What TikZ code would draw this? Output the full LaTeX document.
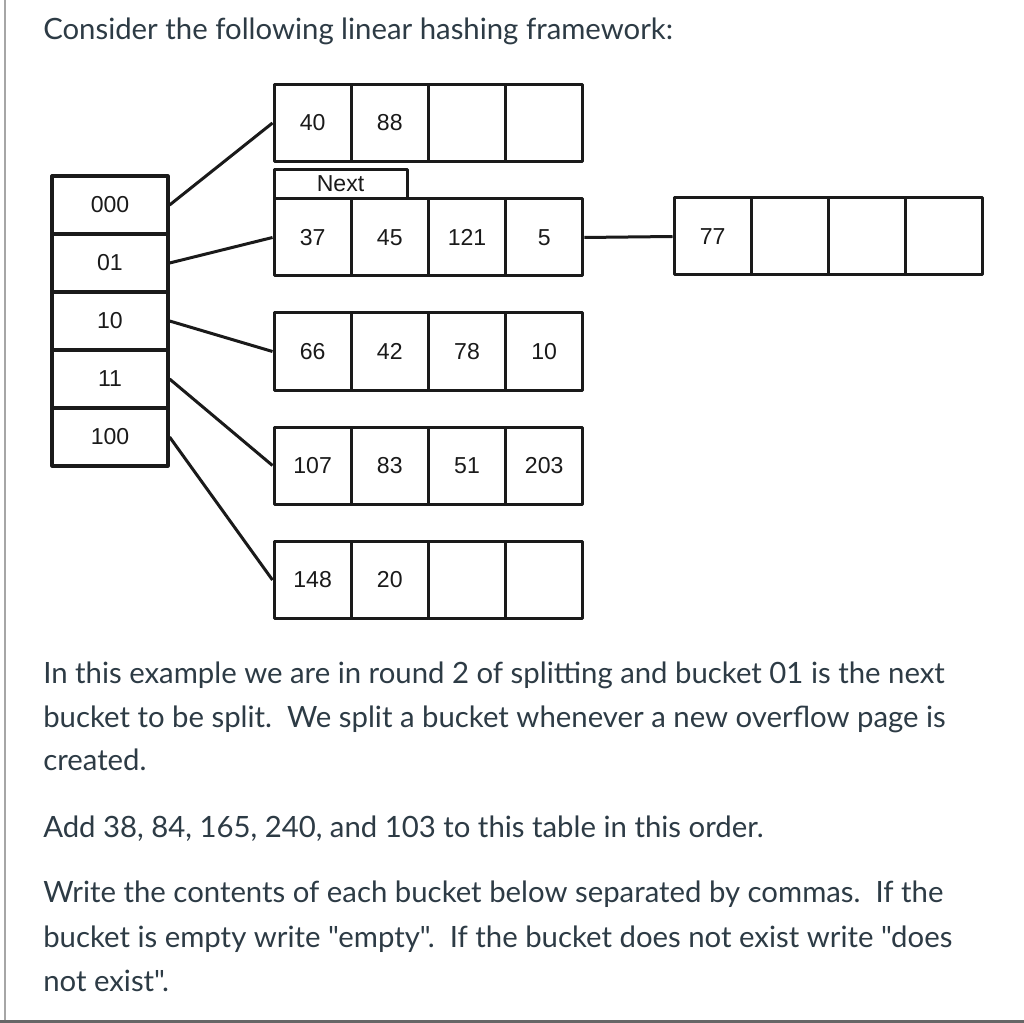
\documentclass[tikz,border=0pt]{standalone}
\usepackage{fontspec}
\setmainfont{Lato}[Ligatures=TeXOff]
\newfontfamily\diagfont{Liberation Sans}
\definecolor{txt}{HTML}{2D3B45}
\definecolor{ink}{HTML}{1A1A1A}
\begin{document}
\begin{tikzpicture}[x=0.75pt,y=-0.75pt,
  cell/.style={draw=ink,line width=2.25pt,line join=round,minimum width=57.9pt,minimum height=57.75pt,inner sep=0pt,font=\diagfont\fontsize{17.3}{18}\selectfont,text=ink},
  dir/.style={draw=ink,line width=2.4pt,line join=round,minimum width=87pt,minimum height=43.5pt,inner sep=0pt,font=\diagfont\fontsize{17.3}{18}\selectfont,text=ink},
  link/.style={draw=ink,line width=2.25pt},
  para/.style={anchor=base west,inner sep=0pt,text=txt,font=\fontsize{22}{26}\selectfont}]
\useasboundingbox (0,0) rectangle (1024,1023);
\fill[white] (0,0) rectangle (1024,1023);
% page borders
\draw[line width=1.5pt,color=black!35] (4.7,0) -- (4.7,1020);
\draw[line width=2pt,color=black!60] (0,1021.5) -- (1024,1021.5);
% title
\node[para] (title) at (43,40) {Consider the following linear hashing framework:};
% directory
\node[dir] (d000) at (110,205) {000};
\node[dir] (d01) at (110,263) {01};
\node[dir] (d10) at (110,321) {10};
\node[dir] (d11) at (110,379) {11};
\node[dir] (d100) at (110,437) {100};
% bucket 1
\node[cell] (a1) at (312.6,123) {40};
\node[cell] (a2) at (389.8,123) {88};
\node[cell] (a3) at (467.0,123) {};
\node[cell] (a4) at (544.2,123) {};
% next marker
\node[draw=ink,line width=2.25pt,line join=round,minimum width=99.75pt,minimum height=21.75pt,inner sep=0pt,font=\diagfont\fontsize{17.3}{18}\selectfont,text=ink] (next) at (340.5,184) {Next};
% bucket 2
\node[cell] (b1) at (312.6,237.5) {37};
\node[cell] (b2) at (389.8,237.5) {45};
\node[cell] (b3) at (467.0,237.5) {121};
\node[cell] (b4) at (544.2,237.5) {5};
% overflow
\node[cell] (o1) at (712.6,236.5) {77};
\node[cell] (o2) at (789.8,236.5) {};
\node[cell] (o3) at (867.0,236.5) {};
\node[cell] (o4) at (944.2,236.5) {};
% bucket 3
\node[cell] (c1) at (312.6,351.5) {66};
\node[cell] (c2) at (389.8,351.5) {42};
\node[cell] (c3) at (467.0,351.5) {78};
\node[cell] (c4) at (544.2,351.5) {10};
% bucket 4
\node[cell] (e1) at (312.6,465.5) {107};
\node[cell] (e2) at (389.8,465.5) {83};
\node[cell] (e3) at (467.0,465.5) {51};
\node[cell] (e4) at (544.2,465.5) {203};
% bucket 5
\node[cell] (f1) at (312.6,580) {148};
\node[cell] (f2) at (389.8,580) {20};
\node[cell] (f3) at (467.0,580) {};
\node[cell] (f4) at (544.2,580) {};
% connectors
\draw[link] (d000.east) -- (a1.west);
\draw[link] (d01.east) -- (b1.west);
\draw[link] (d10.east) -- (c1.west);
\draw[link] (d11.east) -- (e1.west);
\draw[link] (d100.east) -- (f1.west);
\draw[link] (b4.east) -- (o1.west);
% body text
\node[para] (p1) at (43,683) {In this example we are in round 2 of splitting and bucket 01 is the next};
\node[para] (p2) at (43,727) {bucket to be split.\ \ We split a bucket whenever a new overflow page is};
\node[para] (p3) at (43,770) {created.};
\node[para] (p4) at (43,837) {Add 38, 84, 165, 240, and 103 to this table in this order.};
\node[para] (p5) at (43,902) {Write the contents of each bucket below separated by commas.\ \ If the};
\node[para] (p6) at (43,947) {bucket is empty write "empty".\ \ If the bucket does not exist write "does};
\node[para] (p7) at (43,991) {not exist".};
\end{tikzpicture}
\end{document}
